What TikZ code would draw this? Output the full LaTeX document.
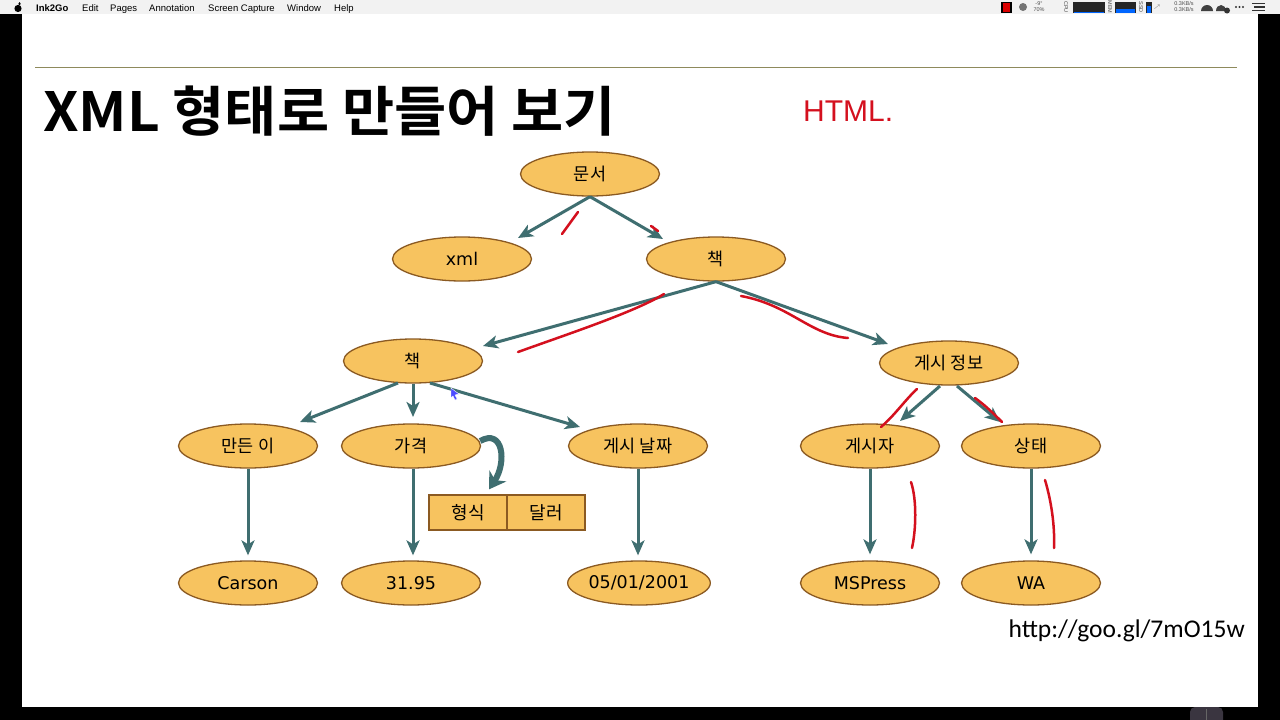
\documentclass[tikz,border=0pt]{standalone}
\usepackage{fontspec}
\setmainfont{DejaVu Sans}
\newfontfamily\kr{Noto Sans CJK KR}[BoldFont={Noto Sans CJK KR Bold}]
\newfontfamily\menufont{Liberation Sans}
\newfontfamily\urlfont{Carlito}
\usetikzlibrary{shapes.geometric,arrows.meta,calc}
\definecolor{nodefill}{HTML}{F7C35F}
\definecolor{nodeline}{HTML}{8B5A22}
\definecolor{edgecol}{HTML}{3F6E70}
\definecolor{inkred}{HTML}{D4101E}
\definecolor{rulecol}{HTML}{8E8A5C}
\definecolor{menubg}{HTML}{F2F2F2}
\definecolor{dockcol}{HTML}{3A3540}
\begin{document}
\begin{tikzpicture}[x=1pt,y=-1pt,
  el/.style={ellipse, draw=nodeline, line width=1.3pt, fill=nodefill,
    minimum width=139pt, minimum height=44pt, inner sep=0pt,
    font=\fontsize{17.5}{20}\selectfont},
  cell/.style={rectangle, draw=nodeline, line width=1.3pt, fill=nodefill,
    minimum width=78pt, minimum height=35pt, inner sep=0pt,
    font=\kr\fontsize{18}{20}\selectfont},
  edge/.style={draw=edgecol, line width=3pt,
    -{Stealth[length=15pt,width=13pt,inset=4pt]}},
  bigedge/.style={draw=edgecol, line width=6pt,
    -{Stealth[length=16pt,width=20pt,inset=5pt]}},
  ink/.style={draw=inkred, line width=2.5pt, line cap=round},
  menutext/.style={anchor=base west, inner sep=0pt, font=\menufont\fontsize{9.5}{10}\selectfont},
  tiny/.style={inner sep=0pt, font=\menufont\fontsize{5.5}{5.5}\selectfont, text=black!70}
]
\useasboundingbox (0,0) rectangle (1280,720);
% screen background
\fill[black] (0,0) rectangle (1280,720);
\fill[white] (22,14) rectangle (1258,707);
\fill[menubg] (0,0) rectangle (1280,14);
% dock icon
\fill[dockcol, rounded corners=5pt] (1190,707) rectangle (1223,728);
\draw[black!60, line width=0.8pt] (1206,709) -- (1206,720);
% menu bar
\fill[black] (18,8.5) circle (3.6);
\fill[black] (19.5,3.8) ellipse (1.2 and 1.8);
\node[menutext, font=\menufont\bfseries\fontsize{9.5}{10}\selectfont] (m1) at (36,11) {Ink2Go};
\node[menutext] (m2) at (82,11) {Edit};
\node[menutext] (m3) at (110,11) {Pages};
\node[menutext] (m4) at (149,11) {Annotation};
\node[menutext] (m5) at (208,11) {Screen Capture};
\node[menutext] (m6) at (287,11) {Window};
\node[menutext] (m7) at (334,11) {Help};
% status icons
\fill[black] (1001,1.5) rectangle (1012,12.5);
\fill[red!85!black] (1003,2.5) rectangle (1010,11.5);
\fill[black!55] (1023,7) circle (4);
\node[tiny] (s1) at (1039,4) {-9°};
\node[tiny] (s2) at (1039,10) {70\%};
\node[tiny, rotate=-90] (s3) at (1066,7) {CPU};
\fill[black!85] (1073,2) rectangle (1105,13);
\fill[blue!60!cyan] (1074,11.5) rectangle (1104,13);
\node[tiny, rotate=-90] (s4) at (1110,7) {MEM};
\fill[black!85] (1115,2) rectangle (1136,13);
\fill[blue!60!cyan] (1116,9) rectangle (1135,12.5);
\node[tiny, rotate=-90] (s5) at (1141,7) {SSD};
\fill[black!85] (1146,2) rectangle (1152,13);
\fill[blue!60!cyan] (1147,6) rectangle (1151,12.5);
\node[tiny] (s6) at (1157,7) {$\nearrow$};
\node[tiny] (s7) at (1184,4) {0.3KB/s};
\node[tiny] (s8) at (1184,10) {0.3KB/s};
\fill[black!75] (1201,11) -- (1213,11) arc (0:-180:6 and 6) -- cycle;
\fill[black!75] (1216,11) -- (1226,11) arc (0:-180:5 and 6) -- cycle;
\fill[black!80] (1227,10.5) circle (3);
\fill[black!80] (1236,7) circle (1.1) (1239.5,7) circle (1.1) (1243,7) circle (1.1);
\draw[black!80, line width=1.2pt] (1252,3.5) -- (1265,3.5) (1254,7) -- (1265,7) (1252,10.5) -- (1265,10.5);
% rule and title
\draw[rulecol, line width=1pt] (35,67) -- (1237,67);
\node[anchor=base west, inner sep=0pt, xscale=1.05, font=\kr\bfseries\fontsize{54}{58}\selectfont] (title) at (43,131) {XML 형태로 만들어 보기};
\node[anchor=base west, inner sep=0pt, text=inkred, font=\menufont\fontsize{30}{32}\selectfont] (html) at (803,121) {HTML.};
\node[anchor=base east, inner sep=0pt, font=\urlfont\fontsize{25.5}{28}\selectfont] (url) at (1245,637) {http://goo.gl/7mO15w};
% nodes
\node[el] (doc) at (590,174) {\kr 문서};
\node[el] (xml) at (462,259) {xml};
\node[el] (book1) at (716,259) {\kr 책};
\node[el] (book2) at (413,361) {\kr 책};
\node[el] (pub) at (949,363) {\kr 게시 정보};
\node[el] (author) at (248,446) {\kr 만든 이};
\node[el] (price) at (411,446) {\kr 가격};
\node[el] (date) at (638,446) {\kr 게시 날짜};
\node[el] (publisher) at (870,446) {\kr 게시자};
\node[el] (state) at (1031,446) {\kr 상태};
\node[el] (carson) at (248,583) {Carson};
\node[el] (val) at (411,583) {31.95};
\node[el] (pdate) at (639,583) {05/01/2001};
\node[el] (mspress) at (870,583) {MSPress};
\node[el] (wa) at (1031,583) {WA};
\node[cell] (fmtA) at (468,512.5) {형식};
\node[cell] (fmtB) at (546,512.5) {달러};
% edges
\draw[edge] (doc.south) -- ($(xml.center)+(56,-21)$);
\draw[edge] (doc.south) -- ($(book1.center)+(-53,-20)$);
\draw[edge] (book1.south) -- ($(book2.center)+(70,-15)$);
\draw[edge] (book1.south) -- ($(pub.center)+(-61,-19)$);
\draw[edge] ($(book2.center)+(-15,22)$) -- ($(author.center)+(52,-24)$);
\draw[edge] (book2.south) -- ($(price.center)+(2,-29)$);
\draw[edge] ($(book2.center)+(17,22)$) -- ($(date.center)+(-58,-19)$);
\draw[edge] ($(pub.center)+(-9,23)$) -- ($(publisher.center)+(30,-25)$);
\draw[edge] ($(pub.center)+(8,23)$) -- ($(state.center)+(-31,-24)$);
\draw[edge] (author.south) -- ($(carson.north)+(0,-5)$);
\draw[edge] ($(price.south)+(2,0)$) -- ($(val.north)+(2,-5)$);
\draw[edge] (date.south) -- ($(pdate.north)+(-1,-5)$);
\draw[edge] (publisher.south) -- ($(mspress.north)+(0,-6)$);
\draw[edge] (state.south) -- ($(wa.north)+(0,-6)$);
\draw[bigedge] ($(price.east)+(-1,-5)$) .. controls (503,428) and (507,462) .. ($(fmtA.north)+(21,-5)$);
% cursor
\fill[blue!70, draw=white, line width=0.4pt] (451,388) -- (459,394) -- (455,395) -- (457,399) -- (455,400) -- (453,396) -- (451,398) -- cycle;
% red ink annotations
\draw[ink] (562,234) -- (578,212);
\draw[ink] (651,226) -- (658,231);
\draw[ink] (518,352) .. controls (565,335) and (635,312) .. (664,294);
\draw[ink] (741,296) .. controls (790,305) and (810,335) .. (848,338);
\draw[ink] (881,427) .. controls (895,415) and (905,400) .. (917,389);
\draw[ink] (975,398) .. controls (985,405) and (995,415) .. (1002,422);
\draw[ink] (911,482) .. controls (917,500) and (916,530) .. (912,548);
\draw[ink] (1045,480) .. controls (1051,500) and (1055,525) .. (1054,548);
\end{tikzpicture}
\end{document}
